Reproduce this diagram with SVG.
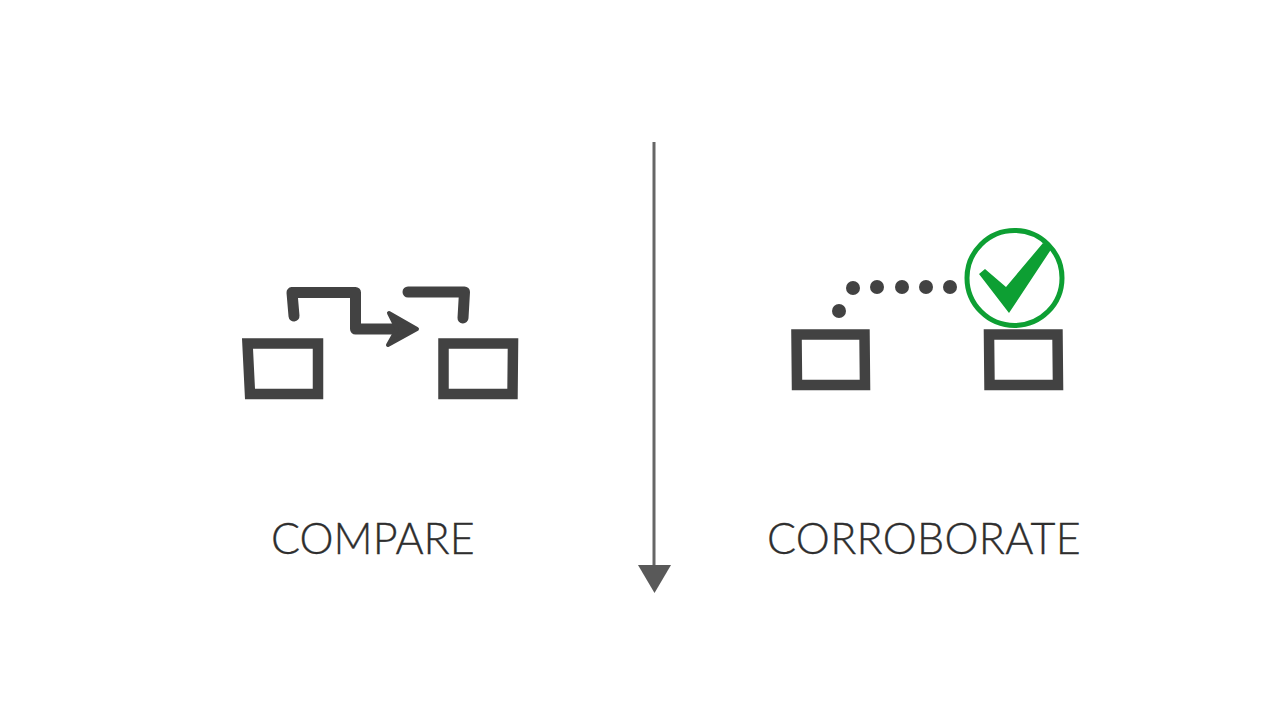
<svg xmlns="http://www.w3.org/2000/svg" width="1280" height="720" viewBox="0 0 1280 720">
<style>
.box{fill:none;stroke:#424242;stroke-width:10.500;stroke-linejoin:miter}
.link{fill:none;stroke:#424242;stroke-width:11;stroke-linejoin:round;stroke-linecap:round}
.head{fill:#424242;stroke:#424242;stroke-width:4;stroke-linejoin:round}
.dot{fill:#424242}
.label{font-family:"Lato","Liberation Sans",sans-serif;font-weight:300;font-size:43px;fill:#2e2e2e;stroke:#2e2e2e;stroke-width:.35}
</style>
<rect width="1280" height="720" fill="#ffffff"/>
<g id="compare-box-a"><path class="box" d="M247.500 343.500H318L318 394H250Z"/></g>
<g id="compare-box-b"><path class="box" d="M443.500 343.500H513L512.500 394H443.500Z"/></g>
<g id="corroborate-box-a"><path class="box" d="M796.500 334.500H864.500L865 385H797Z"/></g>
<g id="corroborate-box-b"><path class="box" d="M989 334.500H1057.500L1058 385H989.500Z"/></g>
<g id="connectors">
<path class="link" d="M294 316L292 292.500H355.500V329H392"/>
<path class="head" d="M389 313L417 329L388 345L397 329Z"/>
<path class="link" d="M408 292H464.500L463 318"/>
<g id="dotted-link">
<circle class="dot" cx="839" cy="311" r="7"/>
<circle class="dot" cx="853" cy="288" r="7"/>
<circle class="dot" cx="877" cy="287" r="7"/>
<circle class="dot" cx="902" cy="287" r="7"/>
<circle class="dot" cx="926" cy="287" r="7"/>
<circle class="dot" cx="950" cy="287" r="7"/>
</g>
<g id="timeline">
<line x1="654" y1="142" x2="654" y2="568" stroke="#666666" stroke-width="3"/>
<polygon points="638,565 671,565 654.500,593" fill="#595959"/>
</g>
</g>
<g id="check-badge">
<circle cx="1014.500" cy="278" r="47.500" fill="#ffffff" stroke="#0d9f33" stroke-width="5"/>
<polygon points="979,274 985,269 1006,287 1043,243 1052,248 1009,313" fill="#0d9f33"/>
</g>
<g id="label-compare"><text class="label" x="271" y="554">COMPARE</text></g>
<g id="label-corroborate"><text class="label" x="767" y="554" letter-spacing=".27">CORROBORATE</text></g>
</svg>
